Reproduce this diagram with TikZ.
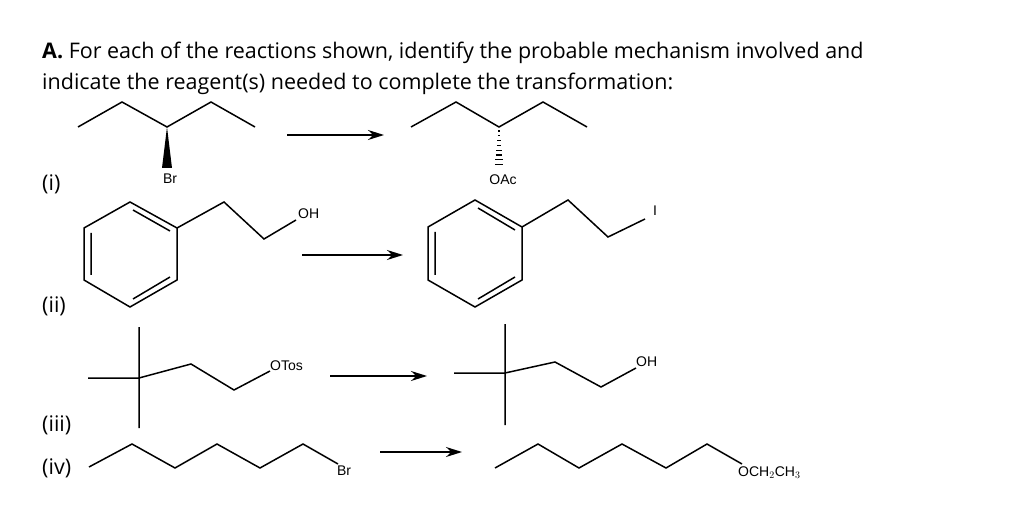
\documentclass[tikz,border=0pt]{standalone}
\usepackage{fontspec}
\setmainfont{Open Sans}
\newfontfamily\atomf{Liberation Sans}
\usetikzlibrary{arrows.meta}
\begin{document}
\begin{tikzpicture}[x=1pt,y=-1pt,
  bond/.style={line width=1.5pt},
  rxn/.style={line width=1.5pt,-{Stealth[length=16pt,width=10pt]}},
  atom/.style={font=\atomf\fontsize{14}{15}\selectfont,inner sep=0pt},
  lab/.style={font=\fontsize{21.5}{24}\selectfont,anchor=west,inner sep=0pt}]
\useasboundingbox (0,0) rectangle (1024,510);
\fill[white] (0,0) rectangle (1024,510);
\node[lab,anchor=base west] (t1) at (42,59) {\textbf{A.} For each of the reactions shown, identify the probable mechanism involved and};
\node[lab,anchor=base west] (t2) at (42,90) {indicate the reagent(s) needed to complete the transformation:};
% (i)
\node[lab] (l1) at (42,184) {(i)};
\draw[bond] (78,127)--(122,102)--(167,127)--(211,102)--(255,127);
\fill (167,127)--(162,168)--(172,168)--cycle;
\node[atom] (br1) at (170,179) {Br};
\coordinate (a1s) at (287,135); \coordinate (a1e) at (384,135);
\draw[rxn] (a1s)--(a1e);
\draw[bond] (411,127)--(456,102)--(499,127)--(543,102)--(587,127);
\foreach \i in {0,...,7}{\draw[line width=1.2pt] ({499-0.6-\i*0.5},{131+\i*4.8}) -- ({499+0.6+\i*0.5},{131+\i*4.8});}
\node[atom] (oac) at (503,180) {OAc};
% (ii)
\node[lab] (l2) at (42,306) {(ii)};
\draw[bond] (130,202)--(177,228)--(177,280)--(130,307)--(84,280)--(84,228)--cycle;
\draw[bond] (91,233)--(91,275) (133,210)--(170,231) (170,277)--(133,299);
\draw[bond] (177,228)--(224,202)--(264,239)--(296,220);
\node[atom,anchor=west] (oh1) at (298,214) {OH};
\draw[rxn] (302,255)--(403,255);
\draw[bond] (475,200)--(522,227)--(522,280)--(475,307)--(428,280)--(428,227)--cycle;
\draw[bond] (435,232)--(435,275) (478,208)--(515,230) (515,277)--(478,299);
\draw[bond] (522,227)--(568,200)--(608,237)--(645,219);
\node[atom] (i2) at (655,211) {I};
% (iii)
\node[lab] (l3) at (42,425) {(iii)};
\draw[bond] (139,327)--(139,428) (88,378)--(139,378)--(191,364)--(234,390)--(270,371);
\node[atom,anchor=west] (otos) at (270,366) {OTos};
\draw[rxn] (330,376)--(427,376);
\draw[bond] (505,324)--(505,425) (454,373)--(505,373)--(555,362)--(601,387)--(636,368);
\node[atom,anchor=west] (oh3) at (636,362) {OH};
% (iv)
\node[lab] (l4) at (42,468) {(iv)};
\draw[bond] (89,467)--(132,444)--(175,468)--(217,444)--(260,468)--(303,444)--(338,464);
\node[atom] (br4) at (344,471) {Br};
\draw[rxn] (380,452)--(462,452);
\draw[bond] (495,468)--(538,444)--(579,468)--(622,444)--(666,468)--(707,444)--(742,464);
\node[atom,anchor=west] (oet) at (738,473) {OCH$_2$CH$_3$};
\end{tikzpicture}
\end{document}
